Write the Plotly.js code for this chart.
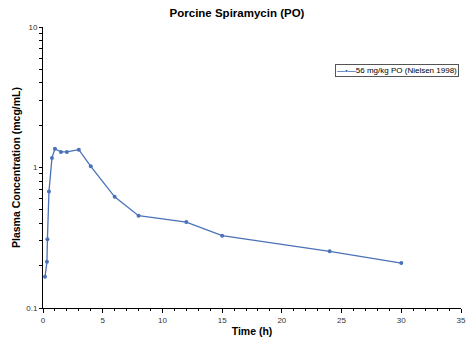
<!DOCTYPE html>
<html><head><meta charset="utf-8">
<script src="https://cdn.plot.ly/plotly-3.0.1.min.js"></script>
<style>html,body{margin:0;padding:0;background:#fff}#chart{width:474px;height:344px}</style>
</head><body><div id="chart"></div>
<script>
const timeH = [0.17, 0.33, 0.37, 0.5, 0.75, 1, 1.5, 2, 3, 4, 6, 8, 12, 15, 24, 30];
const concentration = [0.167, 0.213, 0.308, 0.674, 1.17, 1.36, 1.29, 1.29, 1.34, 1.02, 0.618, 0.454, 0.409, 0.327, 0.253, 0.209];
const seriesName = '56 mg/kg PO (Nielsen 1998)';
const yTickVals = [0.1,0.2,0.3,0.4,0.5,0.6,0.7,0.8,0.9,1,2,3,4,5,6,7,8,9,10];
const yTickText = yTickVals.map(v => (v===0.1?'0.1':v===1?'1':v===10?'10':''));
const lineColor = '#4a72b8';

const trace = {
  x: timeH, y: concentration, name: seriesName, type: 'scatter', mode: 'lines+markers',
  line: {color: lineColor, width: 1.3},
  marker: {color: lineColor, size: 4},
  showlegend: false
};
const layout = {
  width: 474, height: 344,
  margin: {l: 43, r: 13, t: 27, b: 36},
  paper_bgcolor: '#fff', plot_bgcolor: '#fff',
  font: {family: 'Liberation Sans, Arial, sans-serif', color: '#000'},
  title: {text: '<b>Porcine Spiramycin (PO)</b>', font: {size: 11.5, color: '#000'}, x: 0.5, xanchor: 'center', y: 0.962, yanchor: 'middle'},
  showlegend: false,
  annotations: [{
    xref: 'paper', yref: 'paper', x: 0.995, y: 0.868, xanchor: 'right', yanchor: 'top',
    text: "<span style='color:" + lineColor + "'><b>—•—</b></span>" + seriesName,
    showarrow: false, font: {size: 8, color: '#000'},
    bordercolor: '#555', borderwidth: 1, borderpad: 1, bgcolor: '#fff'
  }],
  xaxis: {
    range: [0, 35], dtick: 5, showgrid: false, zeroline: false,
    showline: true, linecolor: '#000', linewidth: 1,
    ticks: 'outside', ticklen: 4, tickcolor: '#000',
    minor: {dtick: 1, ticks: 'outside', ticklen: 2, tickcolor: '#000'},
    tickfont: {size: 8, color: '#333'},
    title: {text: '<b>Time (h)</b>', font: {size: 10.5, color: '#000'}, standoff: 4}
  },
  yaxis: {
    type: 'log', range: [-1, 1], showgrid: false, zeroline: false,
    showline: true, linecolor: '#000', linewidth: 1,
    tickmode: 'array', tickvals: yTickVals, ticktext: yTickText,
    ticks: 'outside', ticklen: 3, tickcolor: '#000',
    tickfont: {size: 8, color: '#333'},
    title: {text: '<b>Plasma Concentration (mcg/mL)</b>', font: {size: 10.5, color: '#000'}, standoff: 3}
  }
};
Plotly.newPlot('chart', [trace], layout, {displayModeBar: false, staticPlot: true});
</script></body></html>
